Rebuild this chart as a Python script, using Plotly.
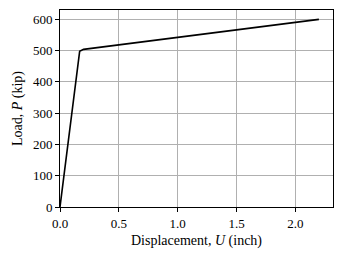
import plotly.graph_objects as go

displacement = [0.0, 0.167, 0.2, 2.2]
load = [0.0, 498.0, 504.0, 600.0]
x_ticks = [0.0, 0.5, 1.0, 1.5, 2.0]
x_tick_text = ["0.0", "0.5", "1.0", "1.5", "2.0"]
y_ticks = [0, 100, 200, 300, 400, 500, 600]

fig = go.Figure()
fig.add_trace(go.Scatter(x=displacement, y=load, mode="lines",
                         line=dict(color="black", width=1.6), showlegend=False))

tick_font = dict(family="Liberation Serif, serif", size=13, color="black")
title_font = dict(family="Liberation Serif, serif", size=14, color="black")
axis_common = dict(showline=True, linecolor="black", linewidth=1, mirror=True,
                   ticks="outside", ticklen=4, tickcolor="black", tickwidth=1,
                   showgrid=True, gridcolor="#b0b0b0", gridwidth=1, zeroline=False,
                   tickfont=tick_font)
fig.update_layout(
    width=342, height=258,
    margin=dict(l=60, r=9, t=10, b=51),
    paper_bgcolor="white", plot_bgcolor="white",
    font=tick_font,
    xaxis=dict(range=[0, 2.32], tickvals=x_ticks, ticktext=x_tick_text,
               title=dict(text="Displacement, <i>U</i> (inch)", standoff=5, font=title_font),
               **axis_common),
    yaxis=dict(range=[0, 630], tickvals=y_ticks,
               title=dict(text="Load, <i>P</i> (kip)", standoff=7, font=title_font),
               **axis_common),
)
fig.write_html("out.html")
